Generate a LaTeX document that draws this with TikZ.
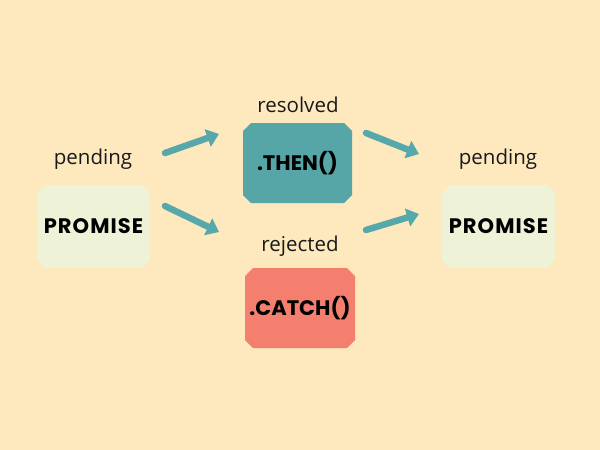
\documentclass[tikz,border=0pt]{standalone}
\usepackage{fontspec}
\setmainfont{Open Sans}
\newfontfamily\boxfont{Poppins}
\newfontfamily\promfont[LetterSpace=5]{Poppins}
\usetikzlibrary{shapes.misc,arrows.meta}
\definecolor{bg}{HTML}{FEE9BE}
\definecolor{pale}{HTML}{EEF3D8}
\definecolor{teal}{HTML}{56A6A8}
\definecolor{salmon}{HTML}{F47F6E}
\definecolor{arr}{HTML}{56A8AA}
\tikzset{
  boxstyle/.style={chamfered rectangle, chamfered rectangle xsep=4pt, chamfered rectangle ysep=4pt, inner sep=0pt,
    font=\boxfont\bfseries\fontsize{21}{24}\selectfont, text=black},
  promstyle/.style={boxstyle, fill=pale, minimum width=113pt, minimum height=83pt,
    font=\promfont\bfseries\fontsize{21}{24}\selectfont},
  lbl/.style={font=\fontsize{20.5}{24}\selectfont, text=black!90, inner sep=0pt},
  conn/.style={draw=arr, line width=6.5pt, line cap=round, -{Triangle[length=12pt,width=18pt]}},
}
\begin{document}
\begin{tikzpicture}[x=1pt,y=-1pt]
\fill[bg] (0,0) rectangle (600,450);
\useasboundingbox (0,0) rectangle (600,450);
\node[promstyle] (p1) at (93.5,226.5) {PROMISE};
\node[boxstyle, fill=teal, minimum width=109pt, minimum height=80pt] (then) at (297.5,163) {.THEN()};
\node[boxstyle, fill=salmon, minimum width=110pt, minimum height=80pt] (catch) at (300,308) {.CATCH()};
\node[promstyle] (p2) at (498.5,226.5) {PROMISE};
\node[lbl] (l1) at (93,159) {pending};
\node[lbl] (l2) at (298,105) {resolved};
\node[lbl] (l3) at (300,246) {rejected};
\node[lbl] (l4) at (498,159) {pending};
\coordinate (a1s) at (165,153); \coordinate (a1e) at (219,134);
\coordinate (a2s) at (165,206); \coordinate (a2e) at (219,232);
\coordinate (a3s) at (366,133); \coordinate (a3e) at (419,154);
\coordinate (a4s) at (366,230); \coordinate (a4e) at (419,214);
\draw[conn] (a1s) -- (a1e);
\draw[conn] (a2s) -- (a2e);
\draw[conn] (a3s) -- (a3e);
\draw[conn] (a4s) -- (a4e);
\end{tikzpicture}
\end{document}
